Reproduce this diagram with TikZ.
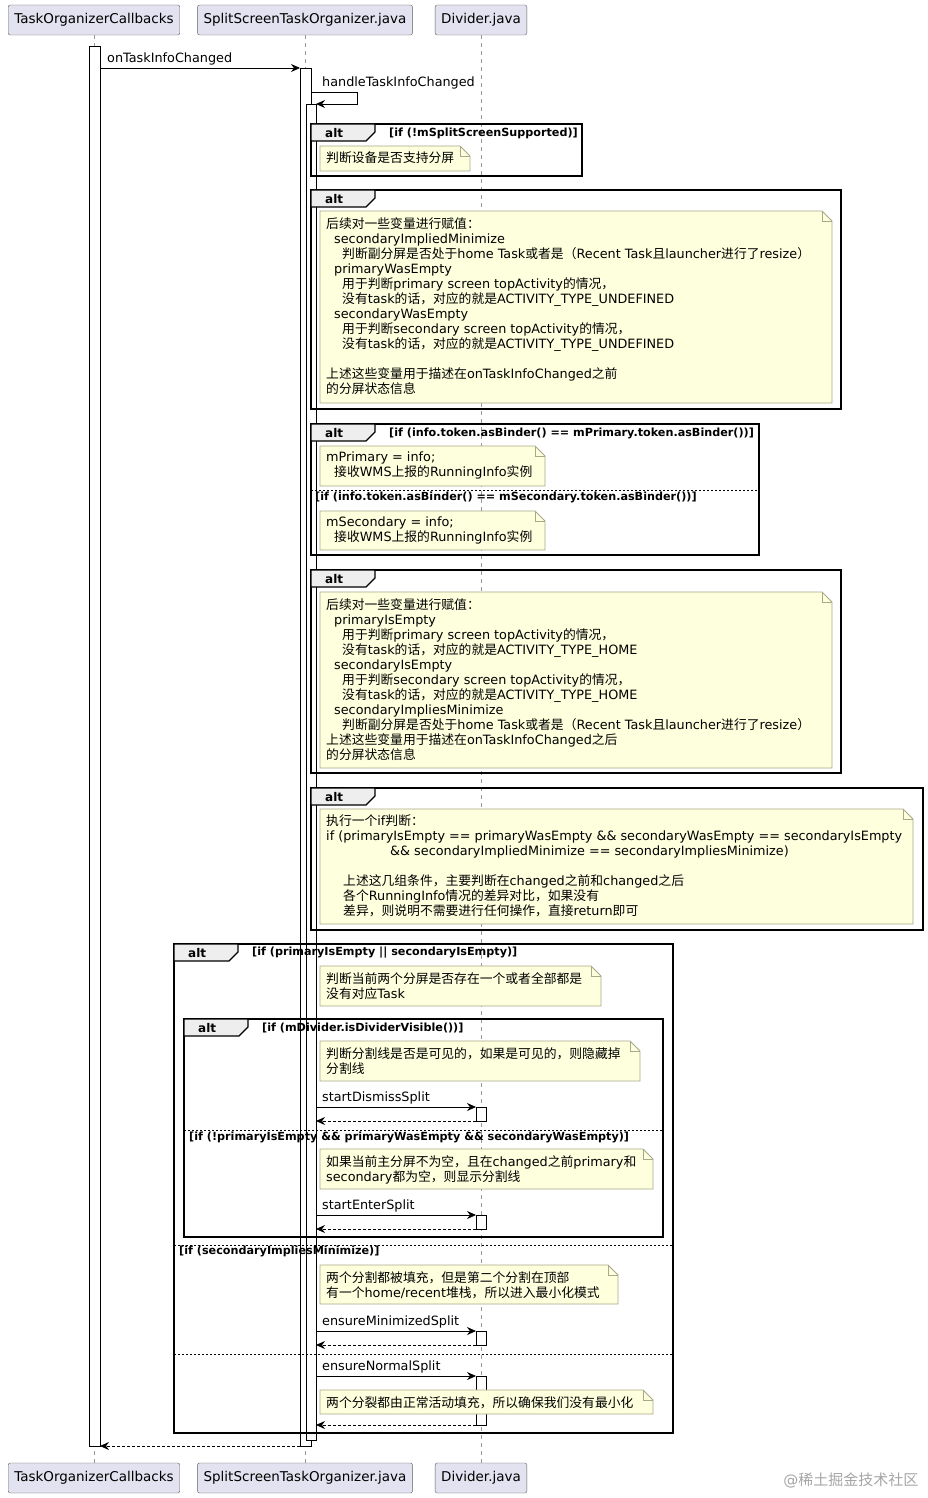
\documentclass[tikz,border=0pt]{standalone}
\usepackage{fontspec}
\setmainfont{DejaVu Sans}
\newfontfamily\cjkfont{Noto Sans CJK SC}
\newfontfamily\latfont{DejaVu Sans}
\newXeTeXintercharclass\cjkclass
\count255="4E00 \loop \XeTeXcharclass\count255=\cjkclass \ifnum\count255<"9FFF \advance\count255 by 1 \repeat
\count255="3000 \loop \XeTeXcharclass\count255=\cjkclass \ifnum\count255<"303F \advance\count255 by 1 \repeat
\count255="FF00 \loop \XeTeXcharclass\count255=\cjkclass \ifnum\count255<"FFEF \advance\count255 by 1 \repeat
\XeTeXinterchartokenstate=1
\XeTeXinterchartoks 0 \cjkclass = {\cjkfont}
\XeTeXinterchartoks 4095 \cjkclass = {\cjkfont}
\XeTeXinterchartoks \cjkclass 0 = {\latfont}
\XeTeXinterchartoks \cjkclass 4095 = {\latfont}
\usetikzlibrary{arrows.meta}
\definecolor{partfill}{HTML}{E2E2F0}
\definecolor{partline}{HTML}{181818}
\definecolor{notefill}{HTML}{FEFFDD}
\definecolor{noteline}{HTML}{A8A88A}
\definecolor{tabfill}{HTML}{EEEEEE}
\tikzset{
  part/.style={draw=partline!70,fill=partfill,rounded corners=2pt,minimum height=30pt,inner xsep=6pt,font=\fontsize{13.5}{15}\selectfont},
  life/.style={draw=gray!80,dash pattern=on 4pt off 4pt,line width=0.6pt},
  actbar/.style={draw=black,fill=white,line width=0.8pt},
  msgline/.style={draw=black,line width=0.8pt,-{Stealth[length=9pt,width=8pt,inset=3pt]}},
  retline/.style={msgline,dash pattern=on 3pt off 2pt},
  msglabel/.style={anchor=south west,inner sep=1pt,font=\fontsize{12.8}{14}\selectfont},
  frame/.style={draw=black,line width=1.2pt},
  tab/.style={draw=black,line width=1.2pt,fill=tabfill},
  tabtxt/.style={anchor=west,inner sep=0pt,font=\bfseries\fontsize{12}{14}\selectfont},
  condtxt/.style={anchor=west,inner sep=0pt,font=\bfseries\fontsize{11.2}{12}\selectfont},
  sep/.style={draw=black,line width=0.8pt,dash pattern=on 2pt off 2pt},
  notebox/.style={draw=noteline,fill=notefill,line width=0.8pt},
  notetxt/.style={anchor=north west,inner sep=0pt,align=left,font=\fontsize{12.8}{15}\selectfont}
}
\newcommand\notebg[5]{% name x1 y1 x2 y2
  \path[notebox] (#2,#3) -- (#4-10,#3) -- (#4,#3+10) -- (#4,#5) -- (#2,#5) -- cycle;
  \draw[noteline,line width=0.8pt] (#4-10,#3) -- (#4-10,#3+10) -- (#4,#3+10);
  \coordinate (#1) at (#2+6,#3+6);}
\newcommand\altframe[5]{% x1 y1 x2 y2 cond
  \draw[frame] (#1,#2) rectangle (#3,#4);
  \draw[tab] (#1,#2) -- (#1+64,#2) -- (#1+64,#2+8) -- (#1+55,#2+17) -- (#1,#2+17) -- cycle;
  \node[tabtxt] at (#1+14,#2+9) {alt};
  \node[condtxt] at (#1+78,#2+9) {#5};}
\newcommand\ind[1]{\hspace*{#1pt}}
\begin{document}
\begin{tikzpicture}[x=1pt,y=-1pt]
\useasboundingbox[fill=white] (0,0) rectangle (928,1498);
% participants
\node[part] (toc) at (94,20) {TaskOrganizerCallbacks};
\node[part] (ssto) at (305,20) {SplitScreenTaskOrganizer.java};
\node[part] (div) at (481,20) {Divider.java};
\node[part] (tocb) at (94,1478) {TaskOrganizerCallbacks};
\node[part] (sstob) at (305,1478) {SplitScreenTaskOrganizer.java};
\node[part] (divb) at (481,1478) {Divider.java};
\draw[life] (toc.south) -- (tocb.north);
\draw[life] (ssto.south) -- (sstob.north);
\draw[life] (div.south) -- (divb.north);
% activation bars
\draw[actbar] (89,46) rectangle (100,1446);
\draw[actbar] (300,68) rectangle (311,1446);
\draw[actbar] (306,104) rectangle (316,1440);
\draw[actbar] (476,1107) rectangle (486,1121);
\draw[actbar] (476,1215) rectangle (486,1229);
\draw[actbar] (476,1331) rectangle (486,1345);
\draw[actbar] (476,1376) rectangle (486,1425);
% frames
\altframe{311}{124}{582}{176}{[if (!mSplitScreenSupported)]}
\altframe{311}{190}{841}{409}{}
\altframe{311}{424}{759}{555}{[if (info.token.asBinder() == mPrimary.token.asBinder())]}
\draw[sep] (311,490) -- (759,490);
\node[condtxt] at (315,497) {[if (info.token.asBinder() == mSecondary.token.asBinder())]};
\altframe{311}{570}{841}{773}{}
\altframe{311}{788}{923}{930}{}
\altframe{174}{944}{673}{1433}{[if (primaryIsEmpty || secondaryIsEmpty)]}
\altframe{184}{1019}{663}{1237}{[if (mDivider.isDividerVisible())]}
\draw[sep] (184,1130) -- (663,1130);
\node[condtxt] at (189,1137) {[if (!primaryIsEmpty \&\& primaryWasEmpty \&\& secondaryWasEmpty)]};
\draw[sep] (174,1245) -- (673,1245);
\node[condtxt] at (179,1251) {[if (secondaryImpliesMinimize)]};
\draw[sep] (174,1354) -- (673,1354);
% notes
\notebg{n1}{320}{146}{470}{171}
\node[notetxt] at (n1) {判断设备是否支持分屏};
\notebg{n2}{320}{211}{832}{403}
\node[notetxt] at (n2) {后续对一些变量进行赋值：\\\ind{8}secondaryImpliedMinimize\\\ind{16}判断副分屏是否处于home Task或者是（Recent Task且launcher进行了resize）\\\ind{8}primaryWasEmpty\\\ind{16}用于判断primary screen topActivity的情况，\\\ind{16}没有task的话，对应的就是ACTIVITY\_TYPE\_UNDEFINED\\\ind{8}secondaryWasEmpty\\\ind{16}用于判断secondary screen topActivity的情况，\\\ind{16}没有task的话，对应的就是ACTIVITY\_TYPE\_UNDEFINED\\[15pt]上述这些变量用于描述在onTaskInfoChanged之前\\的分屏状态信息};
\notebg{n3}{320}{446}{545}{486}
\node[notetxt] at (n3) {mPrimary = info;\\\ind{8}接收WMS上报的RunningInfo实例};
\notebg{n4}{320}{511}{545}{550}
\node[notetxt] at (n4) {mSecondary = info;\\\ind{8}接收WMS上报的RunningInfo实例};
\notebg{n5}{320}{592}{832}{768}
\node[notetxt] at (n5) {后续对一些变量进行赋值：\\\ind{8}primaryIsEmpty\\\ind{16}用于判断primary screen topActivity的情况，\\\ind{16}没有task的话，对应的就是ACTIVITY\_TYPE\_HOME\\\ind{8}secondaryIsEmpty\\\ind{16}用于判断secondary screen topActivity的情况，\\\ind{16}没有task的话，对应的就是ACTIVITY\_TYPE\_HOME\\\ind{8}secondaryImpliesMinimize\\\ind{16}判断副分屏是否处于home Task或者是（Recent Task且launcher进行了resize）\\上述这些变量用于描述在onTaskInfoChanged之后\\的分屏状态信息};
\notebg{n6}{320}{809}{913}{924}
\node[notetxt] at (n6) {执行一个if判断：\\if (primaryIsEmpty == primaryWasEmpty \&\& secondaryWasEmpty == secondaryIsEmpty\\\ind{64}\&\& secondaryImpliedMinimize == secondaryImpliesMinimize)\\[15pt]\ind{17}上述这几组条件，主要判断在changed之前和changed之后\\\ind{17}各个RunningInfo情况的差异对比，如果没有\\\ind{17}差异，则说明不需要进行任何操作，直接return即可};
\notebg{n7}{320}{966}{601}{1006}
\node[notetxt] at (n7) {判断当前两个分屏是否存在一个或者全部都是\\没有对应Task};
\notebg{n8}{320}{1041}{640}{1081}
\node[notetxt] at (n8) {判断分割线是否是可见的，如果是可见的，则隐藏掉\\分割线};
\notebg{n9}{320}{1149}{653}{1189}
\node[notetxt] at (n9) {如果当前主分屏不为空，且在changed之前primary和\\secondary都为空，则显示分割线};
\notebg{n10}{320}{1265}{618}{1304}
\node[notetxt] at (n10) {两个分割都被填充，但是第二个分割在顶部\\有一个home/recent堆栈，所以进入最小化模式};
\notebg{n11}{320}{1390}{653}{1414}
\node[notetxt] at (n11) {两个分裂都由正常活动填充，所以确保我们没有最小化};
% messages
\coordinate (a1) at (100,68); \coordinate (b1) at (300,68);
\draw[msgline] (a1) -- (b1);
\node[msglabel] at (106,66) {onTaskInfoChanged};
\coordinate (s1) at (311,92); \coordinate (s2) at (357,92); \coordinate (s3) at (357,104); \coordinate (s4) at (316,104);
\draw[msgline] (s1) -- (s2) -- (s3) -- (s4);
\node[msglabel] at (321,90) {handleTaskInfoChanged};
\foreach \y/\t [count=\i] in {1107/startDismissSplit,1215/startEnterSplit,1331/ensureMinimizedSplit,1376/ensureNormalSplit}{
  \coordinate (m\i a) at (316,\y); \coordinate (m\i b) at (476,\y);
  \draw[msgline] (m\i a) -- (m\i b);
  \node[msglabel] at (321,\y-2) {\t};
}
\foreach \y [count=\i] in {1121,1229,1345,1425}{
  \coordinate (r\i a) at (476,\y); \coordinate (r\i b) at (316,\y);
  \draw[retline] (r\i a) -- (r\i b);
}
\coordinate (fa) at (300,1446); \coordinate (fb) at (100,1446);
\draw[retline] (fa) -- (fb);
\node[anchor=east,text=gray!70,font=\fontsize{15}{17}\selectfont] (wm) at (922,1480) {@稀土掘金技术社区};
\end{tikzpicture}
\end{document}
